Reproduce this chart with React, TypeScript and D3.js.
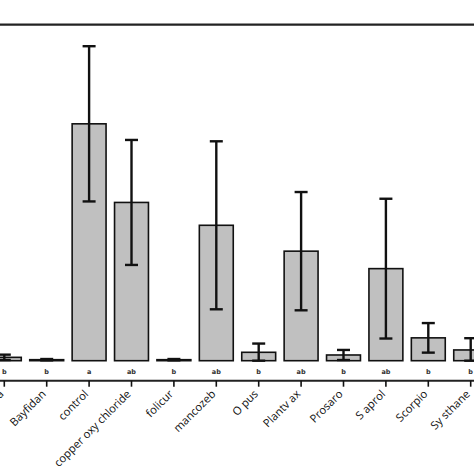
import React, { useEffect, useRef } from "react";
import * as d3 from "d3";

const categories = ["Amistar Xtra", "Bayfidan", "control", "copper oxy chloride", "folicur", "mancozeb", "O pus", "Plantv ax", "Prosaro", "S aprol", "Scorpio", "Sy sthane"];
const means = [1.0, 0.3, 70.5, 47.1, 0.3, 40.3, 2.5, 32.6, 1.7, 27.4, 6.8, 3.2];
const errors = [0.8, 0.2, 23.1, 18.6, 0.2, 25.0, 2.6, 17.6, 1.5, 20.8, 4.4, 3.5];
const letters = ["b", "b", "a", "ab", "b", "ab", "b", "ab", "b", "ab", "b", "b"];

const W = 474;
const H = 474;

export default function App() {
  const axisRef = useRef<SVGGElement>(null);
  const x = d3
    .scaleBand<string>()
    .domain(categories)
    .range([-16.9, -16.9 + 12 * 42.4])
    .paddingInner(0.2)
    .paddingOuter(0.1);
  const y = d3.scaleLinear().domain([0, 100]).range([360.7, 24.7]);
  const axisY = 380.7;

  useEffect(() => {
    if (!axisRef.current) return;
    const g = d3.select(axisRef.current);
    g.selectAll("*").remove();
    g.call(d3.axisBottom(x).tickSize(6).tickSizeOuter(0));
    g.select(".domain").remove();
    g.selectAll(".tick line").attr("stroke", "#111").attr("stroke-width", 1.6);
    g.selectAll(".tick text")
      .attr("font-family", "'Open Sans', sans-serif")
      .attr("font-size", 11.2)
      .attr("fill", "#111")
      .attr("text-anchor", "end")
      .attr("dy", 0)
      .attr("transform", "translate(0,14) rotate(-45)")
      .attr("y", 0)
      .attr("x", 0);
  }, []);

  const bw = x.bandwidth();
  return (
    <svg width={W} height={H} style={{ position: "absolute", left: 0, top: 0, background: "#fff" }}>
      <line x1={0} x2={W} y1={y(100)} y2={y(100)} stroke="#222" strokeWidth={2.2} />
      {categories.map((c, i) => {
        const x0 = x(c)!;
        const cx = x0 + bw / 2;
        const top = y(means[i]);
        const base = y(0);
        return (
          <g key={c}>
            <rect x={x0} y={top} width={bw} height={Math.max(base - top, 0.5)} fill="#c0c0c0" stroke="#111" strokeWidth={1.6} />
            <line x1={cx} x2={cx} y1={y(means[i] + errors[i])} y2={y(Math.max(means[i] - errors[i], 0))} stroke="#111" strokeWidth={2.4} />
            <line x1={cx - 6.5} x2={cx + 6.5} y1={y(means[i] + errors[i])} y2={y(means[i] + errors[i])} stroke="#111" strokeWidth={2.4} />
            <line x1={cx - 6.5} x2={cx + 6.5} y1={y(Math.max(means[i] - errors[i], 0))} y2={y(Math.max(means[i] - errors[i], 0))} stroke="#111" strokeWidth={2.4} />
            <text x={cx} y={374} textAnchor="middle" fontFamily="'DejaVu Sans', sans-serif" fontWeight="bold" fontSize={6.5} fill="#333">
              {letters[i]}
            </text>
          </g>
        );
      })}
      <line x1={0} x2={W} y1={axisY} y2={axisY} stroke="#222" strokeWidth={2} />
      <g ref={axisRef} transform={`translate(0,${axisY})`} />
    </svg>
  );
}
